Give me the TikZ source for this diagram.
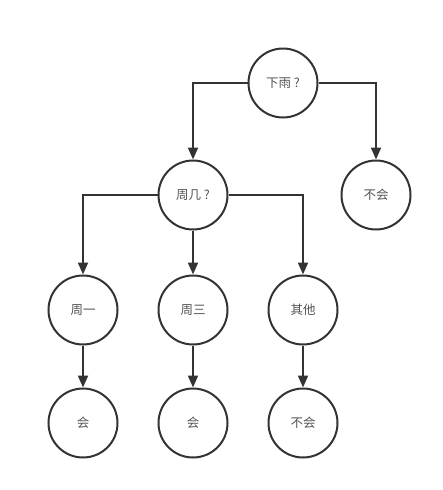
\documentclass[tikz,border=0pt]{standalone}
\usepackage{fontspec}
\setmainfont{Noto Sans CJK SC}
\usetikzlibrary{arrows.meta}
\definecolor{ink}{HTML}{333333}
\tikzset{
  circ/.style={circle, draw=ink, line width=2pt, minimum size=69pt, inner sep=0pt, font=\fontsize{12.5}{15}\selectfont, text=ink!85},
  link/.style={draw=ink, line width=2pt, -{Triangle[length=12pt,width=10pt]}}
}
\begin{document}
\begin{tikzpicture}[x=1pt,y=-1pt]
\useasboundingbox (0,0) rectangle (443,490);
\node[circ] (rain) at (283,83) {下雨 ?};
\node[circ] (no1) at (376,195) {不会};
\node[circ] (day) at (193,195) {周几 ?};
\node[circ] (mon) at (83,310) {周一};
\node[circ] (wed) at (193,310) {周三};
\node[circ] (oth) at (303,310) {其他};
\node[circ] (yes1) at (83,423) {会};
\node[circ] (yes2) at (193,423) {会};
\node[circ] (no2) at (303,423) {不会};
\draw[link] (rain.west) -| (day.north);
\draw[link] (rain.east) -| (no1.north);
\draw[link] (day.west) -| (mon.north);
\draw[link] (day.south) -- (wed.north);
\draw[link] (day.east) -| (oth.north);
\draw[link] (mon.south) -- (yes1.north);
\draw[link] (wed.south) -- (yes2.north);
\draw[link] (oth.south) -- (no2.north);
\end{tikzpicture}
\end{document}
